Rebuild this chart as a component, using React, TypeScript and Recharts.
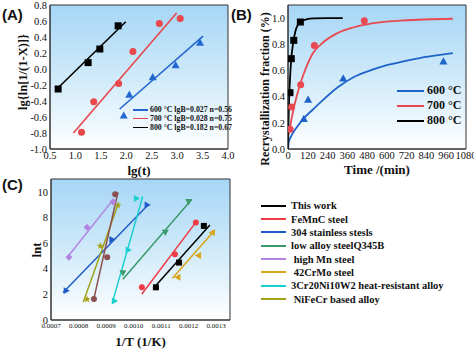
import React from "react";
import {
  ComposedChart,
  Line,
  Scatter,
  XAxis,
  YAxis,
  CartesianGrid,
  ReferenceArea,
  Label,
} from "recharts";

const SERIF = '"Liberation Serif", "Times New Roman", serif';
const AXIS = "#333";

// ---- (A) Avrami plot ----
const A_TICKS_X = [0.5, 1, 1.5, 2, 2.5, 3, 3.5, 4];
const A_TICKS_Y = [-1, -0.8, -0.6, -0.4, -0.2, 0, 0.2, 0.4, 0.6, 0.8];
const A_INNER_X = [0.5, 0.75, 1, 1.25, 1.5, 1.75, 2, 2.25, 2.5, 2.75, 3, 3.25, 3.5, 3.75, 4];
const A_INNER_Y = [-1, -0.9, -0.8, -0.7, -0.6, -0.5, -0.4, -0.3, -0.2, -0.1, 0, 0.1, 0.2, 0.3, 0.4, 0.5, 0.6, 0.7, 0.8];
const A_PTS_600 = [
  { x: 1.95, y: -0.58 },
  { x: 2.06, y: -0.32 },
  { x: 2.52, y: -0.1 },
  { x: 2.97, y: 0.05 },
  { x: 3.45, y: 0.33 },
];
const A_FIT_600 = [
  { x: 1.87, y: -0.5 },
  { x: 3.51, y: 0.41 },
];
const A_PTS_700 = [
  { x: 1.12, y: -0.79 },
  { x: 1.36, y: -0.41 },
  { x: 1.85, y: -0.18 },
  { x: 2.13, y: 0.22 },
  { x: 2.65, y: 0.57 },
  { x: 3.06, y: 0.63 },
];
const A_FIT_700 = [
  { x: 0.96, y: -0.8 },
  { x: 2.99, y: 0.7 },
];
const A_PTS_800 = [
  { x: 0.66, y: -0.25 },
  { x: 1.25, y: 0.08 },
  { x: 1.48, y: 0.25 },
  { x: 1.84, y: 0.54 },
];
const A_FIT_800 = [
  { x: 0.62, y: -0.26 },
  { x: 1.99, y: 0.59 },
];
const A_LEGEND = [
  "600 °C lgB=0.027 n=0.56",
  "700 °C lgB=0.028 n=0.75",
  "800 °C lgB=0.182 n=0.67",
];

// ---- (B) recrystallization fraction vs time ----
const B_TICKS_X = [0, 120, 240, 360, 480, 600, 720, 840, 960, 1080];
const B_TICKS_Y = [0, 0.2, 0.4, 0.6, 0.8, 1.0];
const B_INNER_X = [0, 60, 120, 180, 240, 300, 360, 420, 480, 540, 600, 660, 720, 780, 840, 900, 960, 1020, 1080];
const B_INNER_Y = [0, 0.1, 0.2, 0.3, 0.4, 0.5, 0.6, 0.7, 0.8, 0.9, 1.0];
const B_PTS_600 = [
  { x: 96, y: 0.23 },
  { x: 122, y: 0.377 },
  { x: 335, y: 0.54 },
  { x: 943, y: 0.67 },
];
const B_CURVE_600 = [
  { x: 0, y: 0 },
  { x: 5, y: 0.05 },
  { x: 20, y: 0.1 },
  { x: 50, y: 0.16 },
  { x: 100, y: 0.24 },
  { x: 150, y: 0.3 },
  { x: 200, y: 0.36 },
  { x: 300, y: 0.47 },
  { x: 400, y: 0.55 },
  { x: 500, y: 0.6 },
  { x: 600, y: 0.64 },
  { x: 700, y: 0.67 },
  { x: 800, y: 0.695 },
  { x: 900, y: 0.715 },
  { x: 1000, y: 0.733 },
];
const B_PTS_700 = [
  { x: 13, y: 0.15 },
  { x: 22, y: 0.32 },
  { x: 77, y: 0.49 },
  { x: 160, y: 0.79 },
  { x: 463, y: 0.98 },
];
const B_CURVE_700 = [
  { x: 0, y: 0.1 },
  { x: 10, y: 0.15 },
  { x: 20, y: 0.22 },
  { x: 40, y: 0.34 },
  { x: 70, y: 0.48 },
  { x: 100, y: 0.59 },
  { x: 150, y: 0.73 },
  { x: 200, y: 0.8 },
  { x: 300, y: 0.885 },
  { x: 400, y: 0.93 },
  { x: 500, y: 0.958 },
  { x: 700, y: 0.982 },
  { x: 1000, y: 0.995 },
];
const B_PTS_800 = [
  { x: 12, y: 0.43 },
  { x: 20, y: 0.69 },
  { x: 35, y: 0.83 },
  { x: 75, y: 0.97 },
];
const B_CURVE_800 = [
  { x: 0, y: 0 },
  { x: 3, y: 0.2 },
  { x: 6, y: 0.35 },
  { x: 10, y: 0.48 },
  { x: 15, y: 0.6 },
  { x: 20, y: 0.69 },
  { x: 30, y: 0.8 },
  { x: 45, y: 0.9 },
  { x: 60, y: 0.95 },
  { x: 80, y: 0.975 },
  { x: 110, y: 0.99 },
  { x: 160, y: 0.998 },
  { x: 240, y: 1 },
  { x: 332, y: 1 },
];
const B_LEGEND = ["600 °C", "700 °C", "800 °C"];

// ---- (C) lnt vs 1/T ----
const C_TICKS_X = [0.0007, 0.0008, 0.0009, 0.001, 0.0011, 0.0012, 0.0013];
const C_TICKS_Y = [0, 2, 4, 6, 8, 10];
const C_INNER_X = [0.0007, 0.00075, 0.0008, 0.00085, 0.0009, 0.00095, 0.001, 0.00105, 0.0011, 0.00115, 0.0012, 0.00125, 0.0013];
const C_INNER_Y = [0, 1, 2, 3, 4, 5, 6, 7, 8, 9, 10];
const C_SERIES = [
  {
    name: "This work",
    color: "#000000",
    kind: "square",
    pts: [
      { x: 0.001081, y: 2.55 },
      { x: 0.001165, y: 4.48 },
      { x: 0.001255, y: 7.34 },
    ],
    fit: [
      { x: 0.001071, y: 2.45 },
      { x: 0.001277, y: 7.42 },
    ],
  },
  {
    name: "FeMnC steel",
    color: "#ee3b45",
    kind: "circle",
    pts: [
      { x: 0.00103, y: 2.55 },
      { x: 0.00115, y: 5.13 },
      { x: 0.001226, y: 7.6 },
    ],
    fit: [
      { x: 0.00103, y: 2.03 },
      { x: 0.001225, y: 7.6 },
    ],
  },
  {
    name: "304 stainless stesls",
    color: "#1f5bc6",
    kind: "right",
    pts: [
      { x: 0.000756, y: 2.29 },
      { x: 0.000922, y: 6.28 },
      { x: 0.00105, y: 8.98 },
    ],
    fit: [
      { x: 0.000744, y: 2.14 },
      { x: 0.00105, y: 8.93 },
    ],
  },
  {
    name: "low alloy steelQ345B",
    color: "#3a9a6a",
    kind: "down",
    pts: [
      { x: 0.000961, y: 3.67 },
      { x: 0.001115, y: 6.82 },
      { x: 0.0012, y: 9.22 },
    ],
    fit: [
      { x: 0.000961, y: 3.18 },
      { x: 0.00121, y: 9.38 },
    ],
  },
  {
    name: " high Mn steel",
    color: "#b084e0",
    kind: "diamond",
    pts: [
      { x: 0.000765, y: 4.9 },
      { x: 0.000831, y: 7.24 },
      { x: 0.000925, y: 9.22 },
    ],
    fit: [
      { x: 0.000763, y: 5.0 },
      { x: 0.000928, y: 9.45 },
    ],
  },
  {
    name: " 42CrMo steel",
    color: "#d8a419",
    kind: "left",
    pts: [
      { x: 0.00116, y: 3.33 },
      { x: 0.001235, y: 5.03 },
      { x: 0.001285, y: 6.82 },
    ],
    fit: [
      { x: 0.001141, y: 3.26 },
      { x: 0.001295, y: 7.03 },
    ],
  },
  {
    name: "3Cr20Ni10W2 heat-resistant alloy",
    color: "#1ccfcf",
    kind: "right",
    pts: [
      { x: 0.000931, y: 1.48 },
      { x: 0.000981, y: 5.47 },
      { x: 0.001011, y: 9.48 },
    ],
    fit: [
      { x: 0.000922, y: 1.3 },
      { x: 0.001033, y: 9.64 },
    ],
  },
  {
    name: " NiFeCr based alloy",
    color: "#a3a31a",
    kind: "star",
    pts: [
      { x: 0.000831, y: 1.61 },
      { x: 0.000879, y: 5.78 },
      { x: 0.000943, y: 8.93 },
    ],
    fit: [
      { x: 0.000817, y: 1.38 },
      { x: 0.000946, y: 9.17 },
    ],
  },
  {
    name: "",
    color: "#8b4f4f",
    kind: "circle",
    pts: [
      { x: 0.000856, y: 1.64 },
      { x: 0.000904, y: 4.9 },
      { x: 0.000933, y: 9.82 },
    ],
    fit: [
      { x: 0.000856, y: 1.69 },
      { x: 0.000943, y: 9.95 },
    ],
  },
];

function Marker(props: any) {
  const { cx, cy, kind, size, fill } = props;
  if (cx == null || cy == null) return null;
  const r = size / 2;
  if (kind === "square")
    return <rect x={cx - r} y={cy - r} width={size} height={size} fill={fill} />;
  if (kind === "circle") return <circle cx={cx} cy={cy} r={r} fill={fill} />;
  let pts: number[][] = [];
  const k = r * 1.15;
  if (kind === "up") pts = [[0, -k], [-k, k * 0.8], [k, k * 0.8]];
  if (kind === "down") pts = [[0, k], [-k, -k * 0.8], [k, -k * 0.8]];
  if (kind === "left") pts = [[-k, 0], [k * 0.8, -k], [k * 0.8, k]];
  if (kind === "right") pts = [[k, 0], [-k * 0.8, -k], [-k * 0.8, k]];
  if (kind === "diamond") pts = [[0, -k], [k, 0], [0, k], [-k, 0]];
  if (kind === "star") {
    for (let i = 0; i < 10; i++) {
      const a = (Math.PI / 5) * i - Math.PI / 2;
      const rr = i % 2 === 0 ? k * 1.1 : k * 0.45;
      pts.push([Math.cos(a) * rr, Math.sin(a) * rr]);
    }
  }
  return (
    <polygon
      points={pts.map((p) => `${cx + p[0]},${cy + p[1]}`).join(" ")}
      fill={fill}
    />
  );
}

const tickStyle = { fontSize: 10.5, fill: "#111", fontFamily: SERIF };
const labelStyle = {
  fontSize: 12.5,
  fontWeight: 700,
  fill: "#111",
  fontFamily: SERIF,
  textAnchor: "middle" as const,
};

// rotated axis title placed at a fixed spot in the chart's svg
function vLabel(text: string, x: number, y: number, size: number) {
  return () => (
    <text
      x={x}
      y={y}
      transform={`rotate(-90 ${x} ${y})`}
      textAnchor="middle"
      dominantBaseline="central"
      style={{ ...labelStyle, fontSize: size }}
    >
      {text}
    </text>
  );
}

function Gradient({ id }: { id: string }) {
  return (
    <defs>
      <linearGradient id={id} x1="0" y1="0" x2="0" y2="1">
        <stop offset="0%" stopColor="#a6d6f6" />
        <stop offset="55%" stopColor="#d4ecfa" />
        <stop offset="100%" stopColor="#ffffff" />
      </linearGradient>
    </defs>
  );
}

// inward-pointing tick marks (Origin style), drawn by mirrored axes without labels
function innerAxes(dx: number[], dy: number[], ix: number[], iy: number[]) {
  return [
    <XAxis
      key="ix"
      xAxisId="in"
      type="number"
      domain={dx}
      ticks={ix}
      interval={0}
      mirror
      tick={false}
      axisLine={false}
      tickSize={2.5}
      stroke={AXIS}
      height={0}
      allowDataOverflow
    />,
    <YAxis
      key="iy"
      yAxisId="in"
      type="number"
      domain={dy}
      ticks={iy}
      interval={0}
      mirror
      tick={false}
      axisLine={false}
      tickSize={2.5}
      stroke={AXIS}
      width={0}
      allowDataOverflow
    />,
  ];
}

function ChartA() {
  const series = [
    { pts: A_PTS_600, fit: A_FIT_600, color: "#2467cf", kind: "up" },
    { pts: A_PTS_700, fit: A_FIT_700, color: "#e8474b", kind: "circle" },
    { pts: A_PTS_800, fit: A_FIT_800, color: "#000000", kind: "square" },
  ];
  return (
    <ComposedChart width={240} height={180} margin={{ top: 5, right: 12, left: 5, bottom: 1 }}>
      <Gradient id="bgA" />
      <CartesianGrid fill="url(#bgA)" stroke="none" horizontal={false} vertical={false} />
      <XAxis
        type="number"
        dataKey="x"
        domain={[0.5, 4]}
        ticks={A_TICKS_X}
        interval={0}
        tickFormatter={(v: number) => v.toFixed(1)}
        tick={tickStyle}
        tickSize={0}
        tickMargin={3}
        stroke={AXIS}
        height={30}
        allowDataOverflow
      >
        <Label value="lg(t)" position="insideBottom" offset={4} style={{ ...labelStyle, fontSize: 13 }} />
      </XAxis>
      <YAxis
        type="number"
        dataKey="y"
        domain={[-1, 0.8]}
        ticks={A_TICKS_Y}
        interval={0}
        tickFormatter={(v: number) => v.toFixed(1)}
        tick={tickStyle}
        tickSize={0}
        tickMargin={3}
        stroke={AXIS}
        width={45}
        allowDataOverflow
      >
        <Label content={vLabel("lg{ln[1/(1-X)]}", 22.5, 72, 12.5)} />
      </YAxis>
      {innerAxes([0.5, 4], [-1, 0.8], A_INNER_X, A_INNER_Y)}
      <ReferenceArea x1={0.5} x2={4} y1={-1} y2={0.8} fill="none" stroke={AXIS} strokeWidth={1} />
      {series.map((s, i) => (
        <Line
          key={"l" + i}
          data={s.fit}
          dataKey="y"
          type="linear"
          stroke={s.color}
          strokeWidth={1.6}
          dot={false}
          isAnimationActive={false}
        />
      ))}
      {series.map((s, i) => (
        <Scatter
          key={"s" + i}
          data={s.pts}
          dataKey="y"
          isAnimationActive={false}
          shape={(p: any) => <Marker {...p} kind={s.kind} size={7} fill={s.color} />}
        />
      ))}
    </ComposedChart>
  );
}

function ChartB() {
  const series = [
    { pts: B_PTS_600, curve: B_CURVE_600, color: "#1e64c8", kind: "up" },
    { pts: B_PTS_700, curve: B_CURVE_700, color: "#e84850", kind: "circle" },
    { pts: B_PTS_800, curve: B_CURVE_800, color: "#000000", kind: "square" },
  ];
  return (
    <ComposedChart width={237} height={180} margin={{ top: 5, right: 8, left: 5, bottom: 1 }}>
      <Gradient id="bgB" />
      <CartesianGrid fill="url(#bgB)" stroke="none" horizontal={false} vertical={false} />
      <XAxis
        type="number"
        dataKey="x"
        domain={[0, 1080]}
        ticks={B_TICKS_X}
        interval={0}
        tick={tickStyle}
        tickSize={0}
        tickMargin={3}
        stroke={AXIS}
        height={30}
        allowDataOverflow
      >
        <Label value="Time /(min)" position="insideBottom" offset={5} style={{ ...labelStyle, fontSize: 13 }} />
      </XAxis>
      <YAxis
        type="number"
        dataKey="y"
        domain={[0, 1.1]}
        ticks={B_TICKS_Y}
        interval={0}
        tickFormatter={(v: number) => v.toFixed(1)}
        tick={tickStyle}
        tickSize={0}
        tickMargin={3}
        stroke={AXIS}
        width={46}
        allowDataOverflow
      >
        <Label content={vLabel("Recrystallization fraction (%)", 28, 89, 12)} />
      </YAxis>
      {innerAxes([0, 1080], [0, 1.1], B_INNER_X, B_INNER_Y)}
      <ReferenceArea x1={0} x2={1080} y1={0} y2={1.1} fill="none" stroke={AXIS} strokeWidth={1} />
      {series.map((s, i) => (
        <Line
          key={"l" + i}
          data={s.curve}
          dataKey="y"
          type="monotone"
          stroke={s.color}
          strokeWidth={1.8}
          dot={false}
          isAnimationActive={false}
        />
      ))}
      {series.map((s, i) => (
        <Scatter
          key={"s" + i}
          data={s.pts}
          dataKey="y"
          isAnimationActive={false}
          shape={(p: any) => <Marker {...p} kind={s.kind} size={7} fill={s.color} />}
        />
      ))}
    </ComposedChart>
  );
}

function ChartC() {
  return (
    <ComposedChart width={237} height={181} margin={{ top: 9, right: 7, left: 5, bottom: 1 }}>
      <Gradient id="bgC" />
      <CartesianGrid fill="url(#bgC)" stroke="none" horizontal={false} vertical={false} />
      <XAxis
        type="number"
        dataKey="x"
        domain={[0.0007, 0.00135]}
        ticks={C_TICKS_X}
        interval={0}
        tickFormatter={(v: number) => v.toFixed(4)}
        tick={{ ...tickStyle, fontSize: 7 }}
        tickSize={0}
        tickMargin={3}
        stroke={AXIS}
        height={30}
        allowDataOverflow
      >
        <Label value="1/T (1/K)" position="insideBottom" offset={4} style={{ ...labelStyle, fontSize: 13 }} />
      </XAxis>
      <YAxis
        type="number"
        dataKey="y"
        domain={[0, 11]}
        ticks={C_TICKS_Y}
        interval={0}
        tick={tickStyle}
        tickSize={0}
        tickMargin={3}
        stroke={AXIS}
        width={46}
        allowDataOverflow
      >
        <Label content={vLabel("lnt", 36.5, 80, 13)} />
      </YAxis>
      {innerAxes([0.0007, 0.00135], [0, 11], C_INNER_X, C_INNER_Y)}
      <ReferenceArea x1={0.0007} x2={0.00135} y1={0} y2={11} fill="none" stroke={AXIS} strokeWidth={1} />
      {C_SERIES.map((s, i) => (
        <Line
          key={"l" + i}
          data={s.fit}
          dataKey="y"
          type="linear"
          stroke={s.color}
          strokeWidth={1.5}
          dot={false}
          isAnimationActive={false}
        />
      ))}
      {C_SERIES.map((s, i) => (
        <Scatter
          key={"s" + i}
          data={s.pts}
          dataKey="y"
          isAnimationActive={false}
          shape={(p: any) => <Marker {...p} kind={s.kind} size={6} fill={s.color} />}
        />
      ))}
    </ComposedChart>
  );
}

function LegendRows(props: {
  items: { label: string; color: string }[];
  left: number;
  top: number;
  step: number;
  lineW: number;
  lineH: number;
  gap: number;
  fontSize: number;
}) {
  const { items, left, top, step, lineW, lineH, gap, fontSize } = props;
  return (
    <>
      {items.map((it, i) => (
        <div
          key={i}
          style={{
            position: "absolute",
            left,
            top: top + i * step - fontSize * 0.6,
            height: fontSize * 1.2,
            display: "flex",
            alignItems: "center",
            whiteSpace: "pre",
            fontFamily: SERIF,
            fontWeight: 700,
            fontSize,
            color: "#111",
          }}
        >
          <div style={{ width: lineW, height: lineH, background: it.color, marginRight: gap }} />
          <span>{it.label}</span>
        </div>
      ))}
    </>
  );
}

const panelTag = {
  position: "absolute" as const,
  fontFamily: '"Liberation Sans", Arial, sans-serif',
  fontWeight: 700,
  fontSize: 15,
  color: "#111",
};

export default function App() {
  const aColors = ["#2467cf", "#e8474b", "#000000"];
  const bColors = ["#1e64c8", "#e84850", "#000000"];
  return (
    <div
      style={{
        position: "absolute",
        left: 0,
        top: 0,
        width: 474,
        height: 351,
        background: "#fff",
        overflow: "hidden",
      }}
    >
      <div style={{ position: "absolute", left: 0, top: 0 }}>
        <ChartA />
      </div>
      <div style={{ position: "absolute", left: 237, top: 0 }}>
        <ChartB />
      </div>
      <div style={{ position: "absolute", left: 0, top: 170 }}>
        <ChartC />
      </div>
      <div style={{ ...panelTag, left: 2, top: 6 }}>(A)</div>
      <div style={{ ...panelTag, left: 231, top: 6 }}>(B)</div>
      <div style={{ ...panelTag, left: 2, top: 176 }}>(C)</div>
      <LegendRows
        items={A_LEGEND.map((l, i) => ({ label: l, color: aColors[i] }))}
        left={133}
        top={110}
        step={8.8}
        lineW={15}
        lineH={1.3}
        gap={2}
        fontSize={7.8}
      />
      <LegendRows
        items={B_LEGEND.map((l, i) => ({ label: l, color: bColors[i] }))}
        left={397}
        top={90.7}
        step={15}
        lineW={27}
        lineH={2.3}
        gap={3}
        fontSize={12}
      />
      <LegendRows
        items={C_SERIES.filter((s) => s.name).map((s) => ({ label: s.name, color: s.color }))}
        left={261}
        top={205.7}
        step={13.33}
        lineW={25}
        lineH={2}
        gap={5}
        fontSize={10.5}
      />
    </div>
  );
}
